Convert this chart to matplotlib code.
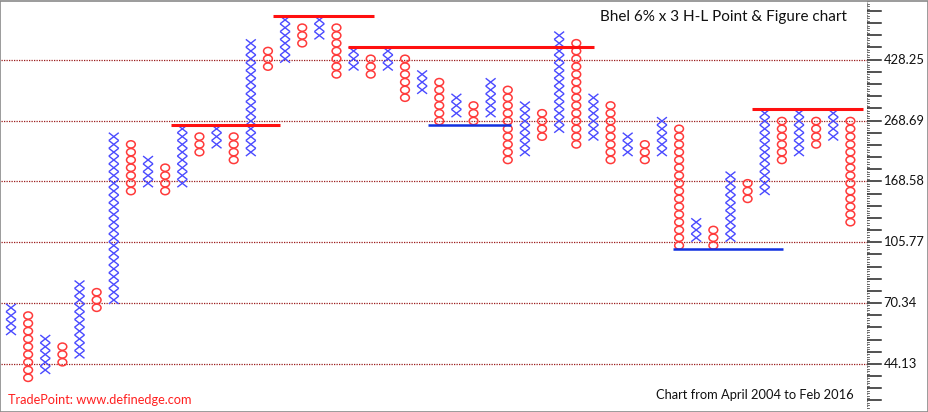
import matplotlib
matplotlib.use("Agg")
import matplotlib.pyplot as plt
from matplotlib.patches import Ellipse, Rectangle
from matplotlib.collections import LineCollection

# ---- data (box index units; each column alternates X / O) ----
col_types = ["X", "O"] * 25
col_low = [0, -6, -5, -4, -3, 3, 4, 18, 19, 18,
           19, 23, 24, 22, 23, 34, 35, 37, 38, 33,
           34, 33, 34, 30, 31, 27, 28, 27, 28, 22,
           23, 25, 26, 24, 25, 22, 23, 22, 23, 11,
           12, 11, 12, 17, 18, 22, 23, 24, 25, 14]
col_high = [3, 2, -1, -2, 6, 5, 25, 24, 22, 21,
            26, 25, 26, 25, 37, 36, 40, 39, 40, 39,
            36, 35, 36, 35, 33, 32, 30, 29, 32, 31,
            29, 28, 38, 37, 30, 29, 25, 24, 27, 26,
            14, 13, 20, 19, 28, 27, 28, 27, 28, 27]

# price labels of the horizontal grid lines (bottom to top)
grid_labels = ["44.13", "70.34", "105.77", "168.58", "268.69", "428.25"]
grid_base = -3.71      # box-edge position of the lowest grid line
grid_step = 7.82       # boxes between grid lines

# resistance (red) and support (blue) lines: level (box edge), start/end column
res_level = [27, 41, 37, 29]
res_start = [10.35, 16.3, 20.67, 44.26]
res_end = [16.7, 22.2, 35.03, 50.74]
sup_level = [27, 11]
sup_start = [25.34, 39.65]
sup_end = [30.19, 46.07]

title = "Bhel 6% x 3 H-L Point & Figure chart"
source = "TradePoint: www.definedge.com"
period = "Chart from April 2004 to Feb 2016"

W, H = 929, 412
fig = plt.figure(figsize=(W / 100, H / 100), dpi=100)
fig.patch.set_facecolor("white")
ax = fig.add_axes([1 / W, 3 / H, 866 / W, 408 / H])
ax.set_xlim(0.416, 50.97)
ax.set_ylim(-9.51, 42.93)
for s in ["left", "top", "bottom", "right"]:
    ax.spines[s].set_visible(False)
ax.set_xticks([])
ax.set_yticks([])

# grid lines
glevels = [grid_base + grid_step * j for j in range(len(grid_labels))]
for g in glevels:
    ax.axhline(g, color="#9B1B1B", lw=0.9, ls=(0, (1, 1)), zorder=1)

# X and O columns
xw = 0.29
xsegs = []
for i, (t, lo, hi) in enumerate(zip(col_types, col_low, col_high), start=1):
    for b in range(lo, hi + 1):
        if t == "X":
            xsegs.append([(i - xw, b), (i + xw, b + 1)])
            xsegs.append([(i - xw, b + 1), (i + xw, b)])
        else:
            ax.add_patch(Ellipse((i, b + 0.5), 0.51, 0.93, facecolor="none",
                                 edgecolor="#FF3A3A", lw=1.1, zorder=3))
ax.add_collection(LineCollection(xsegs, colors="#4A4AFF", linewidths=1.0, zorder=3))

# trend lines
for lv, a, b in zip(res_level, res_start, res_end):
    ax.plot([a, b], [lv, lv], color="#FF1010", lw=2.2, solid_capstyle="butt", zorder=4)
for lv, a, b in zip(sup_level, sup_start, sup_end):
    ax.plot([a, b], [lv, lv], color="#1030E0", lw=1.8, solid_capstyle="butt", zorder=4)

# right axis (drawn manually as in the reference)
ax2 = fig.add_axes([867 / W, 3 / H, 60 / W, 408 / H])
ax2.set_xlim(0, 60)
ax2.set_ylim(-9.51, 42.93)
ax2.axis("off")
ax2.axvline(0.3, color="#777777", lw=0.8, ls=(0, (1, 1.2)))
minor = grid_step / 25
k0 = int((-9.51 - grid_base) / minor) - 1
k1 = int((42.93 - grid_base) / minor) + 1
for k in range(k0, k1):
    y = grid_base + k * minor
    if k % 5 == 0:
        ax2.plot([0, 14], [y, y], color="#222222", lw=1.1)
    else:
        ax2.plot([0, 2], [y, y], color="#555555", lw=0.6)
for g, lab in zip(glevels, grid_labels):
    ax2.text(16.5, g, lab, ha="left", va="center", fontsize=9.4,
             family="Lato", color="#111111")

# texts
fig.text(600 / W, 1 - 17 / H, title, ha="left", va="center", fontsize=11,
         family="Lato", color="#111111")
fig.text(8 / W, 1 - 400 / H, source, ha="left", va="center", fontsize=9.2,
         family="Lato", color="#FF2020")
fig.text(656 / W, 1 - 395 / H, period, ha="left", va="center", fontsize=9.3,
         family="Lato", color="#111111")

# outer frame
fig.add_artist(Rectangle((0.5 / W, 0.5 / H), 1 - 1.5 / W, 1 - 1.5 / H,
                         transform=fig.transFigure, fill=False,
                         edgecolor="#8A8A8A", lw=1.2))

fig.savefig("out.png", dpi=100)
